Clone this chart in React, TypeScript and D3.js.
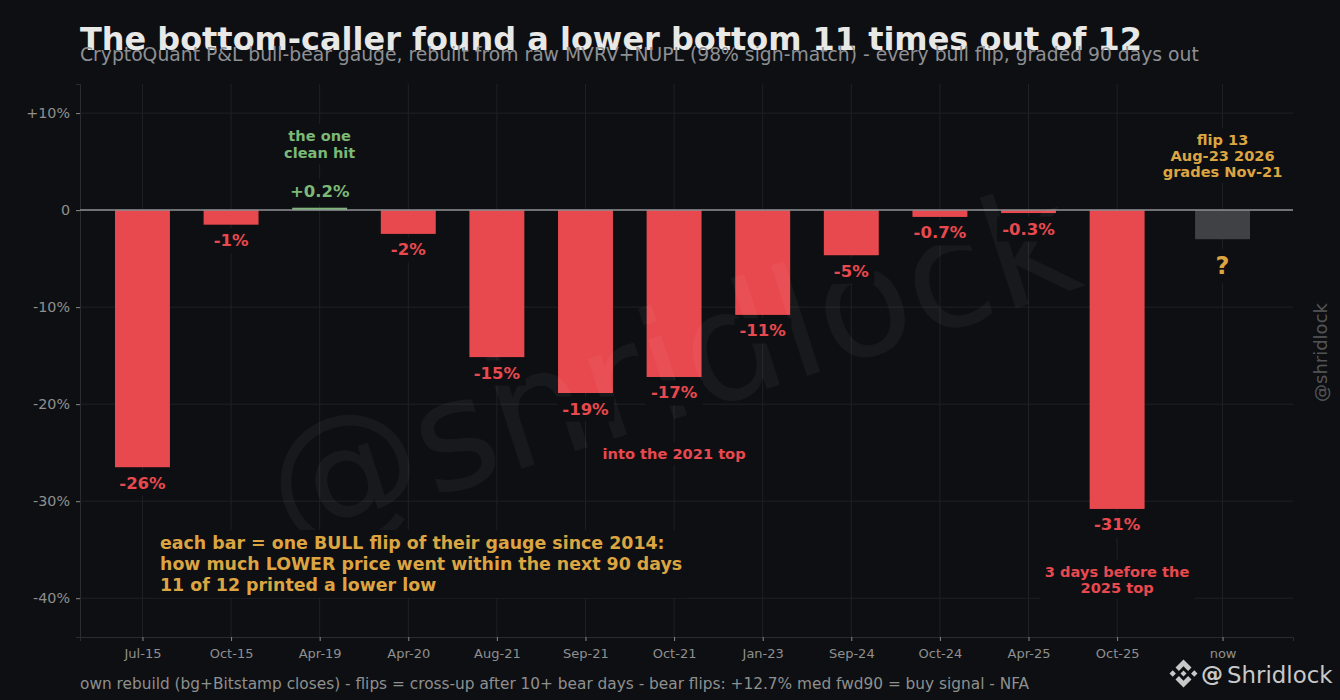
import React, { useEffect, useRef } from 'react';
import * as d3 from 'd3';

const flipLabels = ['Jul-15', 'Oct-15', 'Apr-19', 'Apr-20', 'Aug-21', 'Sep-21', 'Oct-21', 'Jan-23', 'Sep-24', 'Oct-24', 'Apr-25', 'Oct-25', 'now'];
const flipSlots = [0, 1, 2, 3, 4, 5, 6, 7, 8, 9, 10, 11, 12.19];
const flipValues = [-26.5, -1.5, 0.25, -2.45, -15.15, -18.85, -17.2, -10.8, -4.65, -0.7, -0.3, -30.8, -3];
const valueLabels = ['-26%', '-1%', '+0.2%', '-2%', '-15%', '-19%', '-17%', '-11%', '-5%', '-0.7%', '-0.3%', '-31%', '?'];
const yTicks = [10, 0, -10, -20, -30, -40];

const BG = '#0d0f12';
const RED = '#e8494f';
const GREEN = '#7cb876';
const AMBER = '#dca542';
const FONT = '"DejaVu Sans", sans-serif';

const W = 1340;
const H = 700;
const margin = { top: 84, right: 47, bottom: 63, left: 80 };

export default function App() {
  const svgRef = useRef<SVGSVGElement>(null);

  useEffect(() => {
    if (!svgRef.current) return;
    const svg = d3.select(svgRef.current);
    svg.selectAll('*').remove();

    svg.append('rect').attr('width', W).attr('height', H).attr('fill', BG);

    const x = d3.scaleLinear().domain([-0.705, 12.985]).range([margin.left, W - margin.right]);
    const y = d3.scaleLinear().domain([13, -44]).range([margin.top, H - margin.bottom]);
    const barW = x(0.62) - x(0);

    // Grid
    const grid = svg.append('g').attr('stroke', '#1f2124').attr('stroke-width', 1);
    flipSlots.forEach(s => {
      grid.append('line').attr('x1', x(s)).attr('x2', x(s)).attr('y1', margin.top).attr('y2', H - margin.bottom);
    });
    yTicks.forEach(t => {
      grid.append('line').attr('x1', margin.left).attr('x2', W - margin.right).attr('y1', y(t)).attr('y2', y(t));
    });

    // Axes
    const xAxis = d3.axisBottom(x)
      .tickValues(flipSlots)
      .tickFormat((_, i) => flipLabels[i])
      .tickSize(4)
      .tickPadding(8);
    const yAxis = d3.axisLeft(y)
      .tickValues(yTicks)
      .tickFormat(d => (+d === 0 ? '0' : +d > 0 ? `+${d}%` : `${d}%`))
      .tickSize(4)
      .tickPadding(6);

    const gx = svg.append('g').attr('transform', `translate(0,${H - margin.bottom})`).call(xAxis);
    const gy = svg.append('g').attr('transform', `translate(${margin.left},0)`).call(yAxis);
    [gx, gy].forEach(g => {
      g.selectAll('.domain').attr('stroke', '#2a2c2f');
      g.selectAll('.tick line').attr('stroke', '#8a8a8a');
      g.selectAll('.tick text').attr('fill', '#8f8f8f').attr('font-family', FONT);
    });
    gx.selectAll('.tick text').attr('font-size', 13);
    gy.selectAll('.tick text').attr('font-size', 14.3);

    // Bars
    flipValues.forEach((v, i) => {
      const isOpen = flipLabels[i] === 'now';
      svg.append('rect')
        .attr('x', x(flipSlots[i]) - barW / 2)
        .attr('width', barW)
        .attr('y', Math.min(y(v), y(0)))
        .attr('height', Math.abs(y(v) - y(0)))
        .attr('fill', isOpen ? '#3f4144' : v > 0 ? GREEN : RED);
    });

    // Zero line
    svg.append('line')
      .attr('x1', margin.left).attr('x2', W - margin.right)
      .attr('y1', y(0)).attr('y2', y(0))
      .attr('stroke', '#8f9094').attr('stroke-width', 1.5);

    // Watermark
    svg.append('text')
      .attr('transform', 'translate(287,545) rotate(-18)')
      .attr('font-family', FONT)
      .attr('font-size', 153)
      .attr('fill', '#ffffff')
      .attr('fill-opacity', 0.045)
      .text('@shridlock');

    svg.append('text')
      .attr('transform', 'translate(1327,402) rotate(-90)')
      .attr('font-family', FONT)
      .attr('font-size', 18)
      .attr('fill', '#ffffff')
      .attr('fill-opacity', 0.3)
      .text('@shridlock');

    // Text with a background box that cuts the grid
    const note = (
      lines: string[], px: number, py: number, size: number, color: string,
      anchor: string, lineH: number, weight = 'bold',
    ) => {
      const g = svg.append('g');
      const box = g.append('rect').attr('fill', BG);
      const t = g.append('text')
        .attr('font-family', FONT)
        .attr('font-size', size)
        .attr('font-weight', weight)
        .attr('fill', color)
        .attr('text-anchor', anchor);
      lines.forEach((line, i) => {
        t.append('tspan').attr('x', px).attr('y', py + i * lineH).text(line);
      });
      const b = (t.node() as SVGTextElement).getBBox();
      box.attr('x', b.x - 5).attr('y', b.y - 3).attr('width', b.width + 10).attr('height', b.height + 6);
    };

    // Value labels
    flipValues.forEach((v, i) => {
      const label = valueLabels[i];
      if (label === '?') {
        note([label], x(flipSlots[i]), y(v) + 35, 24, AMBER, 'middle', 0);
      } else if (v > 0) {
        note([label], x(flipSlots[i]), y(v) - 10.5, 16.5, GREEN, 'middle', 0);
      } else {
        note([label], x(flipSlots[i]), y(v) + 21.5, 16.5, RED, 'middle', 0);
      }
    });

    // Annotations
    note(['the one', 'clean hit'], x(2), 141, 14.6, GREEN, 'middle', 17);
    note(['into the 2021 top'], x(6), 459, 14.6, RED, 'middle', 17);
    note(['3 days before the', '2025 top'], x(11), 577, 14.6, RED, 'middle', 16);
    note(['flip 13', 'Aug-23 2026', 'grades Nov-21'], x(12.19), 145, 14.6, AMBER, 'middle', 16);
    note([
      'each bar = one BULL flip of their gauge since 2014:',
      'how much LOWER price went within the next 90 days',
      '11 of 12 printed a lower low',
    ], 160, 549, 17.4, AMBER, 'start', 21);

    // Titles
    svg.append('text').attr('x', 80).attr('y', 49.5)
      .attr('font-family', FONT).attr('font-size', 31.94).attr('font-weight', 'bold')
      .attr('fill', '#e8e8e6')
      .text('The bottom-caller found a lower bottom 11 times out of 12');
    svg.append('text').attr('x', 80).attr('y', 60.5)
      .attr('font-family', FONT).attr('font-size', 18.75)
      .attr('fill', '#8f9094')
      .text('CryptoQuant P&L bull-bear gauge, rebuilt from raw MVRV+NUPL (98% sign-match) - every bull flip, graded 90 days out');

    // Footer
    svg.append('text').attr('x', 80).attr('y', 689)
      .attr('font-family', FONT).attr('font-size', 15.35)
      .attr('fill', '#8f8f8f')
      .text('own rebuild (bg+Bitstamp closes) - flips = cross-up after 10+ bear days - bear flips: +12.7% med fwd90 = buy signal - NFA');

    // Brand mark
    const logo = svg.append('g').attr('transform', 'translate(1183.5,673.5)').attr('fill', '#c8c8c8');
    [
      'M0,-14 L8,-6 L4.6,-2.6 L0,-7.2 L-4.6,-2.6 L-8,-6 Z',
      'M0,14 L8,6 L4.6,2.6 L0,7.2 L-4.6,2.6 L-8,6 Z',
      'M-14,0 L-10.8,-3.2 L-7.6,0 L-10.8,3.2 Z',
      'M14,0 L10.8,-3.2 L7.6,0 L10.8,3.2 Z',
      'M0,-3 L3,0 L0,3 L-3,0 Z',
    ].forEach(d => logo.append('path').attr('d', d));
    svg.append('text').attr('x', 1201).attr('y', 681)
      .attr('font-family', FONT).attr('font-size', 22)
      .attr('font-weight', 'bold')
      .attr('fill', '#c8c8c8')
      .text('@');
    svg.append('text').attr('x', 1227).attr('y', 683)
      .attr('font-family', FONT).attr('font-size', 22.9)
      .attr('fill', '#c8c8c8')
      .text('Shridlock');
  }, []);

  return (
    <svg
      ref={svgRef}
      width={W}
      height={H}
      style={{ position: 'absolute', left: 0, top: 0, display: 'block' }}
    />
  );
}
